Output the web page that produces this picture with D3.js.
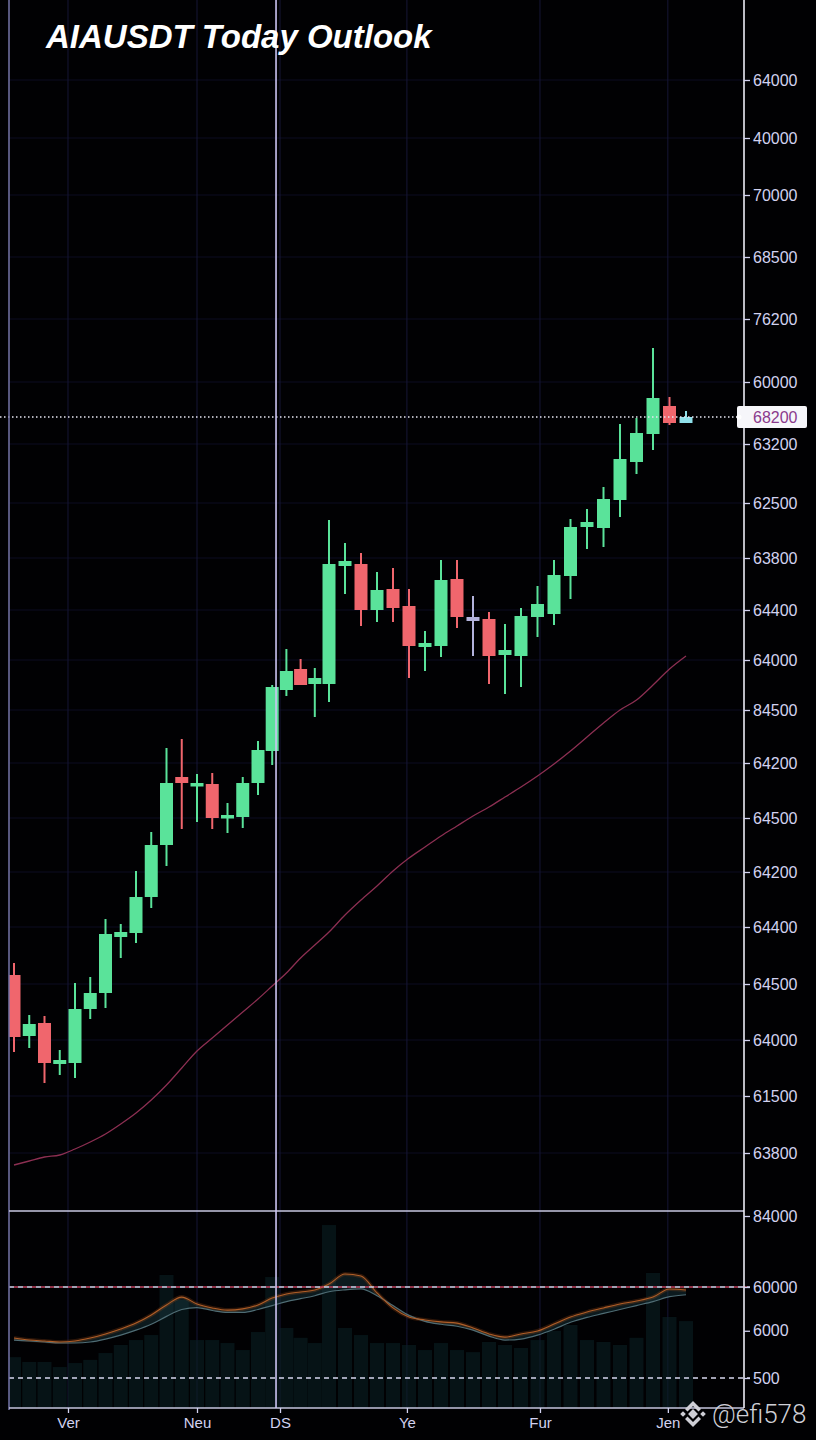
<!DOCTYPE html>
<html>
<head>
<meta charset="utf-8">
<script src="https://cdn.jsdelivr.net/npm/d3@7"></script>
<style>
  html, body { margin: 0; background: #020204; }
  svg { display: block; }
</style>
</head>
<body>
<div id="chart"></div>
<script>
// candles, oldest first
const opens  = [62350, 61740, 61870, 61460, 61470, 62010, 62170, 62730, 62770, 63130, 63650, 64330, 64240, 64260, 63920, 63930, 64270, 64590, 65200, 65410, 65260, 65260, 66440, 66460, 66000, 66210, 66040, 65630, 65640, 66310, 65930, 65910, 65550, 65540, 65930, 65960, 66340, 66830, 66820, 67100, 67480, 67760, 68040, 67870];
const highs  = [62470, 61950, 61940, 61600, 62270, 62330, 62910, 62860, 63390, 63780, 64620, 64710, 64360, 64370, 64070, 64330, 64690, 65250, 65610, 65510, 65420, 66900, 66670, 66570, 66380, 66420, 66210, 65790, 66500, 66500, 66140, 65980, 65860, 66020, 66240, 66500, 66910, 67010, 67230, 67860, 67920, 68620, 68130, 67990];
const lows   = [61580, 61620, 61270, 61350, 61320, 61910, 62020, 62520, 62670, 63020, 63440, 63810, 63880, 63810, 63770, 63820, 64150, 64450, 65140, 65250, 64930, 65080, 66160, 65840, 65880, 65880, 65320, 65390, 65530, 65820, 65540, 65260, 65160, 65230, 65730, 65850, 66110, 66610, 66630, 66930, 67360, 67600, 67850, 67870];
const closes = [61730, 61860, 61470, 61500, 62010, 62170, 62760, 62780, 63130, 63650, 64270, 64270, 64270, 63920, 63950, 64270, 64600, 65230, 65390, 65250, 65320, 66460, 66490, 66000, 66200, 66020, 65640, 65670, 66300, 65930, 65890, 65540, 65600, 65940, 66060, 66350, 66830, 66880, 67110, 67510, 67770, 68120, 67870, 67930];
const neutralCandles = [30];   // drawn grey-lavender
const liveCandle = 43;         // last, still forming

const maValues = [60450, 60490, 60530, 60550, 60610, 60680, 60760, 60860, 60970, 61100, 61250, 61420, 61590, 61720, 61850, 61980, 62110, 62240, 62370, 62520, 62650, 62780, 62950, 63100, 63240, 63390, 63520, 63630, 63740, 63840, 63940, 64030, 64130, 64230, 64340, 64460, 64590, 64730, 64870, 65000, 65100, 65250, 65410, 65540];

const volumes = [1500, 1160, 1160, 890, 1100, 1300, 1860, 2840, 3690, 4800, 112900, 30300, 3690, 3690, 3150, 2180, 5620, 101500, 6940, 4150, 3150, 1565000, 6940, 4800, 3150, 3150, 2840, 2180, 3150, 2180, 1950, 3330, 2840, 2430, 3690, 6000, 8130, 3690, 3330, 2840, 4150, 125400, 12390, 10000];
const oscFast = [35.5, 34.5, 34, 33.5, 34, 35.5, 37.6, 40.1, 43.1, 47.2, 52.3, 56.3, 52.8, 50.8, 49.7, 50.3, 52.3, 55.8, 57.9, 58.9, 59.9, 62.9, 68, 67, 58.4, 50.8, 46.2, 44.7, 43.7, 43.1, 40.6, 37.6, 36, 37.6, 39.1, 42.6, 46.2, 48.7, 50.8, 52.8, 54.3, 56.3, 60.4, 59.9];
const oscSlow = [34.5, 34, 33.5, 33, 33, 33.5, 35, 37, 39.5, 42.5, 46.5, 50, 51, 49.5, 48.5, 48.5, 50, 52, 54, 55.5, 57, 59, 60, 60.5, 57, 52, 47, 44, 42.5, 41.5, 39.5, 36.5, 34.5, 35, 37, 40, 43.5, 46, 48, 50, 52, 54, 56.5, 57.5];

// axis ticks
const priceTicks = [71300, 70720, 70150, 69530, 68910, 68280, 67660, 67070, 66520, 66000, 65500, 65000, 64470, 63920, 63380, 62830, 62260, 61700, 61140, 60570, 59940];
const priceTickLabels = ["64000", "40000", "70000", "68500", "76200", "60000", "63200", "62500", "63800", "64400", "64000", "84500", "64200", "64500", "64200", "64400", "64500", "64000", "61500", "63800", "84000"];
const volTicks = [60000, 6000, 500];
const volTickLabels = ["60000", "6000", "500"];
const volLevels = [60000, 500];
const xTickAt = [3.54, 12.0, 17.55, 25.87, 34.15, 41.9];
const xTickLabels = ["Ver", "Neu", "DS", "Ye", "Fur", "Jen"];
const cursorAt = 17.27;
const priceTagLabel = "68200";

const W = 816, H = 1440;
const left = 9, axisX = 744, mainBottom = 1211, bottom = 1408;
const green = "#5ae39a", red = "#f0666d", lav = "#b3b3dc", cyan = "#8fe0ea";
const axisText = "#d2d2f0";

const svg = d3.select("#chart").append("svg")
    .attr("width", W).attr("height", H)
    .style("background", "#010103")
    .style("font-family", "'Liberation Sans', Arial, sans-serif");

const x = d3.scaleLinear().domain([0, 16, 21, 33, 43]).range([14, 258, 329, 521, 686]);
const y = d3.scaleLinear().domain([60000, 72000]).range([1210, 10]);
const yVol = d3.scaleLog().domain([60000, 500]).range([1287, 1378]);
const yOsc = d3.scaleLinear().domain([0, 100]).range([bottom, mainBottom]);

const idx = d3.range(opens.length);

svg.append("clipPath").attr("id", "mainClip").append("rect")
    .attr("x", left).attr("y", 0).attr("width", axisX - left).attr("height", mainBottom);
svg.append("clipPath").attr("id", "volClip").append("rect")
    .attr("x", left).attr("y", mainBottom + 1).attr("width", axisX - left).attr("height", bottom - mainBottom - 1);

// grid
const grid = svg.append("g");
grid.selectAll(".hg").data(priceTicks.filter(v => y(v) < mainBottom)).join("line")
    .attr("x1", left).attr("x2", axisX).attr("y1", d => y(d)).attr("y2", d => y(d))
    .attr("stroke", "#0d0d22").attr("stroke-width", 1);
grid.selectAll(".vg").data(xTickAt).join("line")
    .attr("x1", d => x(d)).attr("x2", d => x(d)).attr("y1", 0).attr("y2", bottom)
    .attr("stroke", "#161636").attr("stroke-width", 1);

// volume panel
const vol = svg.append("g").attr("clip-path", "url(#volClip)");
vol.selectAll("rect").data(idx).join("rect")
    .attr("x", i => x(i) - 7).attr("width", 14)
    .attr("y", i => yVol(volumes[i]))
    .attr("height", i => bottom - yVol(volumes[i]))
    .attr("fill", "#0a2023").attr("opacity", 0.6);

vol.append("path").datum(idx)
    .attr("d", d3.area().x(i => x(i)).y0(i => yOsc(oscSlow[i])).y1(i => yOsc(oscFast[i])).curve(d3.curveMonotoneX))
    .attr("fill", "#1b3a40").attr("opacity", 0.45);
vol.append("path").datum(idx)
    .attr("d", d3.line().x(i => x(i)).y(i => yOsc(oscFast[i])).curve(d3.curveMonotoneX))
    .attr("fill", "none").attr("stroke", "#8f4418").attr("stroke-width", 4).attr("opacity", 0.3);
vol.append("path").datum(idx)
    .attr("d", d3.line().x(i => x(i)).y(i => yOsc(oscSlow[i])).curve(d3.curveMonotoneX))
    .attr("fill", "none").attr("stroke", "#4f6c74").attr("stroke-width", 1.2);
vol.append("path").datum(idx)
    .attr("d", d3.line().x(i => x(i)).y(i => yOsc(oscFast[i])).curve(d3.curveMonotoneX))
    .attr("fill", "none").attr("stroke", "#b05e28").attr("stroke-width", 1.1);

// dashed levels
svg.append("line")
    .attr("x1", left).attr("x2", axisX + 6).attr("y1", yVol(volLevels[0])).attr("y2", yVol(volLevels[0]))
    .attr("stroke", "#c0405e").attr("stroke-width", 1.5).attr("stroke-dasharray", "4,5").attr("stroke-dashoffset", 4);
svg.selectAll(".lvl").data(volLevels).join("line")
    .attr("x1", left).attr("x2", axisX + 6).attr("y1", d => yVol(d)).attr("y2", d => yVol(d))
    .attr("stroke", "#d6d6ee").attr("stroke-width", 1.5).attr("stroke-dasharray", "5,4");

// main panel
const main = svg.append("g").attr("clip-path", "url(#mainClip)");
main.append("path").datum(idx)
    .attr("d", d3.line().x(i => x(i)).y(i => y(maValues[i])).curve(d3.curveMonotoneX))
    .attr("fill", "none").attr("stroke", "#8c2f52").attr("stroke-width", 1.3);

const colorOf = i => i === liveCandle ? cyan
    : neutralCandles.includes(i) ? lav
    : closes[i] >= opens[i] ? green : red;

const candles = main.selectAll(".candle").data(idx).join("g");
candles.append("line")
    .attr("x1", i => x(i)).attr("x2", i => x(i))
    .attr("y1", i => y(highs[i])).attr("y2", i => y(lows[i]))
    .attr("stroke", colorOf).attr("stroke-width", 2);
candles.append("rect")
    .attr("x", i => x(i) - 6.5).attr("width", 13)
    .attr("y", i => y(Math.max(opens[i], closes[i])))
    .attr("height", i => Math.max(3.5, Math.abs(y(opens[i]) - y(closes[i]))))
    .attr("fill", colorOf);

// last price line
const lastY = y(closes[closes.length - 1]);
svg.append("line")
    .attr("x1", 0).attr("x2", axisX - 6).attr("y1", lastY).attr("y2", lastY)
    .attr("stroke", "#e8e8f4").attr("stroke-width", 1.5).attr("stroke-dasharray", "1.5,2.5");

// frame lines
svg.append("line").attr("x1", left).attr("x2", left).attr("y1", 0).attr("y2", bottom + 2)
    .attr("stroke", "#7474a8").attr("stroke-width", 1.5);
svg.append("line").attr("x1", left).attr("x2", axisX).attr("y1", mainBottom).attr("y2", mainBottom)
    .attr("stroke", "#c8c8e2").attr("stroke-width", 1.6);
svg.append("line").attr("x1", left).attr("x2", axisX).attr("y1", bottom).attr("y2", bottom)
    .attr("stroke", "#c4c4de").attr("stroke-width", 1.6);
svg.append("line").attr("x1", x(cursorAt)).attr("x2", x(cursorAt)).attr("y1", 0).attr("y2", bottom)
    .attr("stroke", "#cbc3f2").attr("stroke-width", 1.6);
svg.append("line").attr("x1", axisX).attr("x2", axisX).attr("y1", 0).attr("y2", bottom)
    .attr("stroke", "#ececf6").attr("stroke-width", 1.6);

// axes
function styleAxis(g) {
    g.select(".domain").remove();
    g.selectAll(".tick line").attr("stroke", axisText).attr("stroke-width", 1.3);
    g.selectAll(".tick text").attr("fill", axisText)
        .style("font-size", "16px").style("font-family", "'Liberation Sans', Arial, sans-serif");
}
svg.append("g").attr("transform", `translate(${axisX},0)`)
    .call(d3.axisRight(y).tickValues(priceTicks).tickFormat((d, i) => priceTickLabels[i]).tickSize(6).tickPadding(3))
    .call(styleAxis);
svg.append("g").attr("transform", `translate(${axisX},0)`)
    .call(d3.axisRight(yVol).tickValues(volTicks).tickFormat((d, i) => volTickLabels[i]).tickSize(6).tickPadding(3))
    .call(styleAxis);
svg.append("g").attr("transform", `translate(0,${bottom})`)
    .call(d3.axisBottom(x).tickValues(xTickAt).tickFormat((d, i) => xTickLabels[i]).tickSize(5).tickPadding(4))
    .call(styleAxis)
    .selectAll(".tick text").style("font-size", "15px");

// price tag
const tag = svg.append("g").attr("transform", `translate(${axisX - 7},${lastY})`);
tag.append("rect").attr("x", 0).attr("y", -11).attr("width", 70).attr("height", 22).attr("rx", 2)
    .attr("fill", "#f6f6fa");
tag.append("circle").attr("cx", 2).attr("cy", 0).attr("r", 2.5).attr("fill", "#ffffff");
tag.append("text").attr("x", 16).attr("y", 0).attr("dy", "0.36em")
    .attr("fill", "#8a3a8c").style("font-size", "16px").text(priceTagLabel);

// title
svg.append("text").attr("x", 46).attr("y", 48)
    .attr("fill", "#ffffff").style("font-size", "33px").style("font-weight", "bold").style("font-style", "italic")
    .text("AIAUSDT Today Outlook");

// watermark
const wm = svg.append("g").attr("transform", "translate(693,1414)").attr("fill", "#cfcfd6");
wm.append("rect").attr("x", -3.5).attr("y", -3.5).attr("width", 7).attr("height", 7).attr("transform", "rotate(45)");
wm.append("rect").attr("x", -2).attr("y", -2).attr("width", 4).attr("height", 4).attr("transform", "translate(-10,0) rotate(45)");
wm.append("rect").attr("x", -2).attr("y", -2).attr("width", 4).attr("height", 4).attr("transform", "translate(10,0) rotate(45)");
wm.append("path").attr("d", "M-8,-5 L0,-13 L8,-5 L5.5,-2.5 L0,-8 L-5.5,-2.5 Z");
wm.append("path").attr("d", "M-8,5 L0,13 L8,5 L5.5,2.5 L0,8 L-5.5,2.5 Z");
svg.append("text").attr("x", 712).attr("y", 1423)
    .attr("fill", "#cfcfd6").style("font-family", "Roboto, 'Noto Sans', sans-serif")
    .style("font-weight", 300).style("font-size", "26px").text("@efi578");
</script>
</body>
</html>
